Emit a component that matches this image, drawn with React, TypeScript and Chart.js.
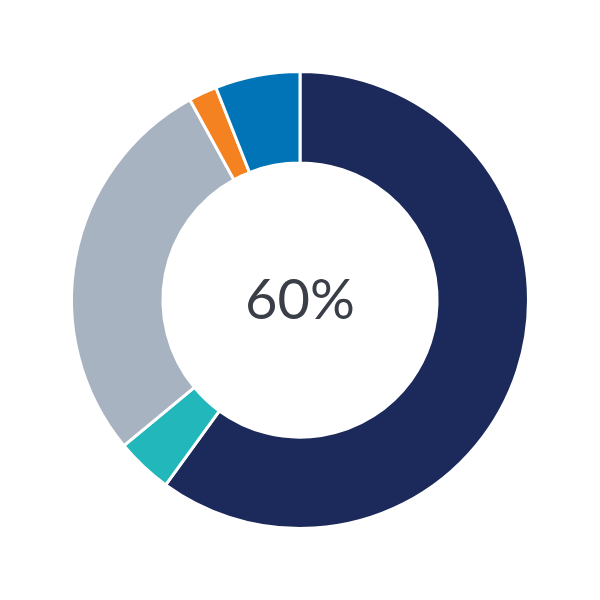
import React, { useEffect, useRef } from "react";
import { Chart, registerables } from "chart.js";

Chart.register(...registerables);

const labels = ["Navy", "Teal", "Gray", "Orange", "Blue"];
const values = [60, 4, 28, 2, 6];
const colors = ["#1b2a5a", "#22b8bb", "#a8b3c2", "#f58220", "#0074b7"];
const centerText = "60%";

const centerPlugin = {
  id: "centerText",
  afterDraw(chart: any) {
    const meta = chart.getDatasetMeta(0);
    const arc = meta.data[0];
    if (!arc) return;
    const { x, y } = arc;
    const ctx = chart.ctx;
    ctx.save();
    ctx.fillStyle = "#3a3f47";
    ctx.font = "400 56px Lato, 'Open Sans', sans-serif";
    ctx.textAlign = "center";
    ctx.textBaseline = "middle";
    ctx.fillText(centerText, x, y + 1);
    ctx.restore();
  },
};

export default function App() {
  const ref = useRef<HTMLCanvasElement>(null);
  useEffect(() => {
    if (!ref.current) return;
    const chart = new Chart(ref.current, {
      type: "doughnut",
      data: {
        labels,
        datasets: [
          {
            data: values,
            backgroundColor: colors,
            borderColor: "#ffffff",
            borderWidth: 3,
          },
        ],
      },
      options: {
        animation: false,
        responsive: false,
        cutout: "60%",
        layout: { padding: 70 },
        plugins: {
          legend: { display: false },
          tooltip: { enabled: false },
        },
      },
      plugins: [centerPlugin],
    });
    return () => chart.destroy();
  }, []);
  return (
    <div style={{ position: "absolute", left: 0, top: 0, width: 600, height: 600, background: "#fff" }}>
      <canvas ref={ref} width={600} height={600} style={{ width: 600, height: 600 }} />
    </div>
  );
}
